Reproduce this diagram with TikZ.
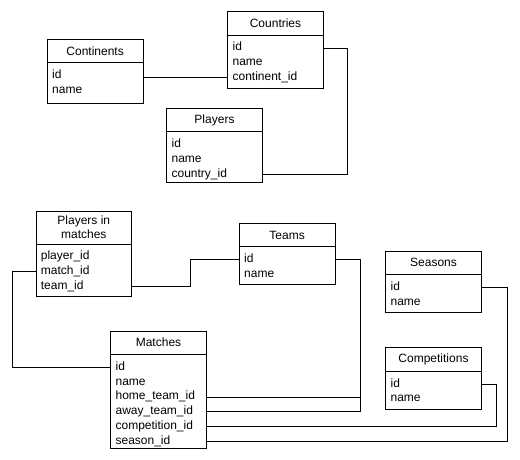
\documentclass[tikz,border=0pt]{standalone}
\usepackage{fontspec}
\setmainfont{Liberation Sans}
\usetikzlibrary{calc,positioning}

\begin{document}
\begin{tikzpicture}[x=1pt, y=-1pt, line width=0.8pt,
	tblhead/.style={draw, minimum width=95.6pt, minimum height=23.4pt, inner sep=0pt, outer sep=0pt, align=center, font=\fontsize{12}{14}\selectfont},
	tblbody/.style={draw, minimum width=95.6pt, inner sep=0pt, outer sep=0pt},
	field/.style={inner sep=0pt, text height=10pt, text depth=4pt, font=\fontsize{12}{14}\selectfont}]
			%%%%% START %%%%%
			
			\useasboundingbox (0, 0) rectangle (520, 460);
			
			\node[tblhead, anchor=north west] (con) at (47.3, 39.3) {Continents};
			\node[tblbody, minimum height=41pt, below=0pt of con] (con-b) {};
			\node[field, below right=5.5pt and 4.5pt of con-b.north west] (con-id) {id};
			\node[field, below right=0pt of con-id.south west] (con-name) {name};
			
			\node[tblhead, anchor=north west] (cou) at (227.7, 11.7) {Countries};
			\node[tblbody, minimum height=53pt, below=0pt of cou] (cou-b) {};
			\node[field, below right=5.5pt and 4.5pt of cou-b.north west] (cou-id) {id};
			\node[field, below right=0pt of cou-id.south west] (cou-name) {name};
			\node[field, below right=0pt of cou-name.south west] (cou-cid) {continent\_id};
			
			\node[tblhead, anchor=north west] (pla) at (166.7, 108.3) {Players};
			\node[tblbody, minimum height=51pt, below=0pt of pla] (pla-b) {};
			\node[field, below right=5.5pt and 4.5pt of pla-b.north west] (pla-id) {id};
			\node[field, below right=0pt of pla-id.south west] (pla-name) {name};
			\node[field, below right=0pt of pla-name.south west] (pla-cid) {country\_id};
			
			\node[tblhead, minimum height=33pt, anchor=north west] (pim) at (36, 211) {Players in\\matches};
			\node[tblbody, minimum height=52pt, below=0pt of pim] (pim-b) {};
			\node[field, below right=5.5pt and 4.5pt of pim-b.north west] (pim-pid) {player\_id};
			\node[field, below right=0pt of pim-pid.south west] (pim-mid) {match\_id};
			\node[field, below right=0pt of pim-mid.south west] (pim-tid) {team\_id};
			
			\node[tblhead, anchor=north west] (tea) at (239.3, 223.3) {Teams};
			\node[tblbody, minimum height=38pt, below=0pt of tea] (tea-b) {};
			\node[field, below right=5.5pt and 4.5pt of tea-b.north west] (tea-id) {id};
			\node[field, below right=0pt of tea-id.south west] (tea-name) {name};
			
			\node[tblhead, anchor=north west] (sea) at (385.7, 251) {Seasons};
			\node[tblbody, minimum height=38pt, below=0pt of sea] (sea-b) {};
			\node[field, below right=5.5pt and 4.5pt of sea-b.north west] (sea-id) {id};
			\node[field, below right=0pt of sea-id.south west] (sea-name) {name};
			
			\node[tblhead, anchor=north west] (com) at (385.7, 347.7) {Competitions};
			\node[tblbody, minimum height=38pt, below=0pt of com] (com-b) {};
			\node[field, below right=5.5pt and 4.5pt of com-b.north west] (com-id) {id};
			\node[field, below right=0pt of com-id.south west] (com-name) {name};
			
			\node[tblhead, anchor=north west] (mat) at (110.7, 331) {Matches};
			\node[tblbody, minimum height=94pt, below=0pt of mat] (mat-b) {};
			\node[field, below right=5.5pt and 4.5pt of mat-b.north west] (mat-id) {id};
			\node[field, below right=0pt of mat-id.south west] (mat-name) {name};
			\node[field, below right=0pt of mat-name.south west] (mat-home) {home\_team\_id};
			\node[field, below right=0pt of mat-home.south west] (mat-away) {away\_team\_id};
			\node[field, below right=0pt of mat-away.south west] (mat-comp) {competition\_id};
			\node[field, below right=0pt of mat-comp.south west] (mat-sea) {season\_id};
			
			\draw (con-b.east |- cou-cid) -- (cou-b.west |- cou-cid);
			\draw (cou-b.east |- cou-id) -- ++(24.4, 0) |- (pla-b.east |- pla-cid);
			
			\draw (pim-b.east |- pim-tid) -- ++(59, 0) |- (tea-b.west |- tea-id);
			\draw (pim-b.west |- pim-mid) -- ++(-24, 0) |- (mat-b.west |- mat-id);
			
			\draw (tea-b.east |- tea-id) -- ++(25, 0) |- (mat-b.east |- mat-home);
			\draw (tea-b.east |- tea-id) -- ++(25, 0) |- (mat-b.east |- mat-away);
			\draw (com-b.east |- com-id) -- ++(14.7, 0) |- (mat-b.east |- mat-comp);
			\draw (sea-b.east |- sea-id) -- ++(26.3, 0) |- (mat-b.east |- mat-sea);
			
			%%%%% END %%%%%
		\end{tikzpicture}
\end{document}
